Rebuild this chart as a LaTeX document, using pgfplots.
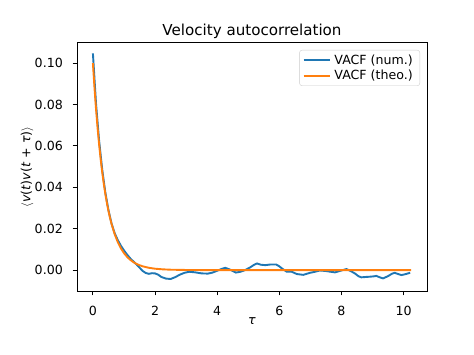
\documentclass[border=0pt]{standalone}
\usepackage{fontspec}
\setmainfont{DejaVu Sans}
\usepackage{pgfplots}
\pgfplotsset{compat=1.18}
\definecolor{cA}{HTML}{1F77B4}
\definecolor{cB}{HTML}{FF7F0E}
\begin{document}
\fontsize{12.6bp}{15bp}\selectfont
\begin{tikzpicture}
\begin{axis}[
  name=ax,
  scale only axis,
  width=350bp, height=248bp,
  xmin=-0.512, xmax=10.752,
  ymin=-0.0101, ymax=0.1097,
  xtick={0,2,4,6,8,10},
  ytick={0,0.02,0.04,0.06,0.08,0.10},
  /pgf/number format/assume math mode=true,
  scaled y ticks=false,
  tick align=outside,
  major tick length=4.4bp,
  tick style={black, line width=1bp},
  axis line style={line width=1bp},
  xtick pos=bottom, ytick pos=left,
  ticklabel style={font=\fontsize{12.6bp}{15bp}\selectfont},
  xticklabel style={anchor=north, inner sep=0pt, yshift=-10.7bp},
  yticklabel style={anchor=east, inner sep=0pt, xshift=-9.6bp, /pgf/number format/.cd, fixed, fixed zerofill, precision=2},
  title={Velocity autocorrelation},
  title style={font=\fontsize{15.1bp}{18bp}\selectfont, at={(axis description cs:0.5,1)}, anchor=base, inner sep=0pt, yshift=2bp},
  xlabel={\textit{τ}},
  xlabel style={at={(axis description cs:0.5,0)}, anchor=base, inner sep=0pt, yshift=-33bp},
  ylabel={$\langle$\textit{v}(\textit{t})\textit{v}(\textit{t} + \textit{τ})$\rangle$},
  ylabel style={at={(axis description cs:0,0.5)}, anchor=center, inner sep=0pt, yshift=50bp},
  label style={font=\fontsize{12.6bp}{15bp}\selectfont},
  legend cell align=left,
  legend style={at={(1,1)}, anchor=north east, xshift=-7bp, yshift=-7bp,
    draw=black!20, rounded corners=2.5bp, fill=white, fill opacity=0.8, text opacity=1,
    font=\fontsize{12.6bp}{15bp}\selectfont, inner xsep=3bp, inner ysep=2.5bp, row sep=0bp,
    nodes={inner ysep=1.9bp, inner xsep=4bp}},
  legend image code/.code={\draw[#1, line width=1.9bp] (0bp,0bp) -- (26bp,0bp);},
]
\addplot[cA, line width=1.9bp] coordinates {
(0,0.1047) (0.1,0.0805) (0.2,0.0625) (0.3,0.0485) (0.4,0.0375) (0.5,0.0290)
(0.6,0.0225) (0.7,0.0178) (0.8,0.0145) (0.9,0.0118) (1.0,0.0095) (1.1,0.0075)
(1.2,0.0057) (1.3,0.0042) (1.4,0.0028) (1.5,0.0012) (1.6,-0.0004) (1.7,-0.0014)
(1.8,-0.0018) (1.9,-0.0015) (2.0,-0.0016) (2.1,-0.0022) (2.2,-0.0033) (2.35,-0.0041)
(2.5,-0.0043) (2.65,-0.0034) (2.8,-0.0022) (2.95,-0.0013) (3.1,-0.0008) (3.3,-0.0011)
(3.5,-0.0016) (3.7,-0.0017) (3.85,-0.0012) (4.0,-0.0003) (4.15,0.0006) (4.26,0.0011)
(4.42,0.0002) (4.6,-0.0012) (4.75,-0.0008) (4.9,0.0000) (5.06,0.0013) (5.18,0.0025)
(5.28,0.0032) (5.4,0.0026) (5.55,0.0024) (5.71,0.0027) (5.9,0.0027) (6.0,0.0018)
(6.1,0.0006) (6.24,-0.0008) (6.4,-0.0008) (6.56,-0.0019) (6.77,-0.0023) (6.99,-0.0013)
(7.15,-0.0008) (7.3,-0.0002) (7.47,-0.0004) (7.65,-0.0008) (7.79,-0.0011) (7.95,-0.0004)
(8.16,0.0005) (8.3,-0.0005) (8.43,-0.0016) (8.55,-0.0030) (8.64,-0.0035) (8.8,-0.0033)
(8.91,-0.0032) (9.05,-0.0030) (9.12,-0.0028) (9.25,-0.0036) (9.34,-0.0040) (9.5,-0.0029)
(9.62,-0.0018) (9.71,-0.0013) (9.82,-0.0019) (9.93,-0.0024) (10.05,-0.0020) (10.21,-0.0013)
};
\addlegendentry{VACF (num.)}
\addplot[cB, line width=1.9bp] coordinates {
(0,0.1) (0.05,0.08825) (0.1,0.07788) (0.15,0.06873) (0.2,0.06065) (0.25,0.05353)
(0.3,0.04724) (0.35,0.04169) (0.4,0.03679) (0.45,0.03247) (0.5,0.02865) (0.55,0.02528)
(0.6,0.02231) (0.7,0.01738) (0.8,0.01353) (0.9,0.01054) (1.0,0.00821) (1.1,0.00639)
(1.2,0.00498) (1.3,0.00388) (1.4,0.00302) (1.5,0.00235) (1.6,0.00183) (1.8,0.00111)
(2.0,0.00067) (2.25,0.00036) (2.5,0.00019) (3.0,0.000055) (3.5,0.000016) (4.0,0.0000045)
(5,0) (6,0) (7,0) (8,0) (9,0) (10.24,0)
};
\addlegendentry{VACF (theo.)}
\end{axis}
\pgfresetboundingbox
\path ([shift={(-77bp,-64bp)}]ax.south west) rectangle ([shift={(47bp,43bp)}]ax.north east);
\end{tikzpicture}
\end{document}
